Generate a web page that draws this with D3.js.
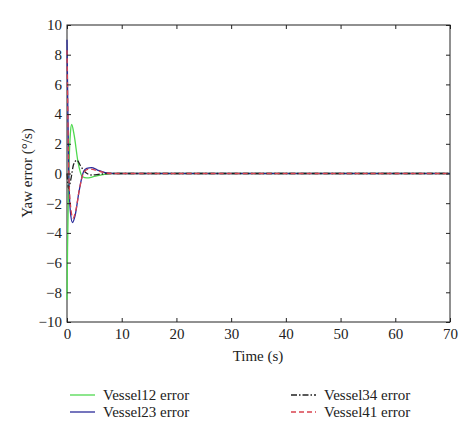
<!DOCTYPE html><html><head><script src="https://cdn.jsdelivr.net/npm/d3@7"></script>
<style>body{margin:0;background:#fff}text{font-family:"Liberation Serif",serif;fill:#222}</style></head><body><svg width="474" height="438"></svg>
<script>
const xTicks=[0,10,20,30,40,50,60,70];
const yTicks=[-10,-8,-6,-4,-2,0,2,4,6,8,10];
const t12=[0,0.1,0.3,0.6,0.85,1.3,2,2.8,3.6,5,6.5,8,10,70];
const v12=[-8.5,-5,-0.5,2.6,3.3,2.6,0.8,-0.2,-0.3,-0.2,-0.08,0,0,0];
const t23=[0,0.1,0.3,0.6,1,1.5,2.2,3,3.6,4.5,5.5,7,8.5,10,70];
const v23=[9,6,0.5,-2.5,-3.3,-2.8,-1.2,0.1,0.35,0.4,0.25,0.05,0,0,0];
const t34=[0,0.3,0.7,1.2,1.8,2.5,3.3,4.5,6,8,10,70];
const v34=[0,-1,-0.4,0.6,0.9,0.5,0.1,-0.1,-0.05,0,0,0];
const t41=[0,0.1,0.3,0.6,1.1,1.6,2.3,3.1,4,5,6.5,8,10,70];
const v41=[8.3,5.5,0.6,-2,-3,-2.5,-1,0.1,0.3,0.25,0.1,0,0,0];
const series=[
 {name:"Vessel12 error",t:t12,v:v12,color:"#4fd94f",dash:null},
 {name:"Vessel23 error",t:t23,v:v23,color:"#2a2a9a",dash:null},
 {name:"Vessel34 error",t:t34,v:v34,color:"#222",dash:"6,2,1.5,2"},
 {name:"Vessel41 error",t:t41,v:v41,color:"#d9434f",dash:"5,3"}];
const svg=d3.select("svg");
const x=d3.scaleLinear().domain([0,70]).range([67,450]);
const y=d3.scaleLinear().domain([-10,10]).range([322,25]);
const g=svg.append("g");
g.append("rect").attr("x",67).attr("y",25).attr("width",383).attr("height",297).attr("fill","none").attr("stroke","#222");
svg.append("g").attr("transform","translate(0,322)").call(d3.axisBottom(x).tickValues(xTicks).tickSizeInner(-4).tickSizeOuter(0).tickPadding(6));
svg.append("g").attr("transform","translate(0,25)").call(d3.axisTop(x).tickValues(xTicks).tickSizeInner(-4).tickSizeOuter(0).tickFormat(""));
svg.append("g").attr("transform","translate(67,0)").call(d3.axisLeft(y).tickValues(yTicks).tickSizeInner(-4).tickSizeOuter(0).tickPadding(5).tickFormat(d=>d<0?"\u2212"+(-d):d));
svg.append("g").attr("transform","translate(450,0)").call(d3.axisRight(y).tickValues(yTicks).tickSizeInner(-4).tickSizeOuter(0).tickFormat(""));
svg.selectAll(".domain").remove();
svg.selectAll(".tick line").attr("stroke","#222");
svg.selectAll(".tick text").attr("font-size",15).attr("fill","#222").attr("font-family","Liberation Serif");
const line=d3.line().x(d=>x(d[0])).y(d=>y(d[1])).curve(d3.curveMonotoneX);
series.forEach(s=>{
 g.append("path").attr("d",line(s.t.map((t,i)=>[t,s.v[i]]))).attr("fill","none").attr("stroke",s.color).attr("stroke-width",1.3).attr("stroke-dasharray",s.dash);
});
svg.append("text").attr("x",258).attr("y",361).attr("text-anchor","middle").attr("font-size",15).text("Time (s)");
svg.append("text").attr("transform","translate(32,173) rotate(-90)").attr("text-anchor","middle").attr("font-size",15).text("Yaw error (°/s)");
const leg=[[70,395],[70,412],[291,395],[291,412]];
series.forEach((s,i)=>{
 const [lx,ly]=leg[i];
 svg.append("line").attr("x1",lx).attr("x2",lx+25).attr("y1",ly).attr("y2",ly).attr("stroke",s.color).attr("stroke-width",1.3).attr("stroke-dasharray",s.dash);
 svg.append("text").attr("x",lx+33).attr("y",ly+5).attr("font-size",15).text(s.name);
});
</script></body></html>
